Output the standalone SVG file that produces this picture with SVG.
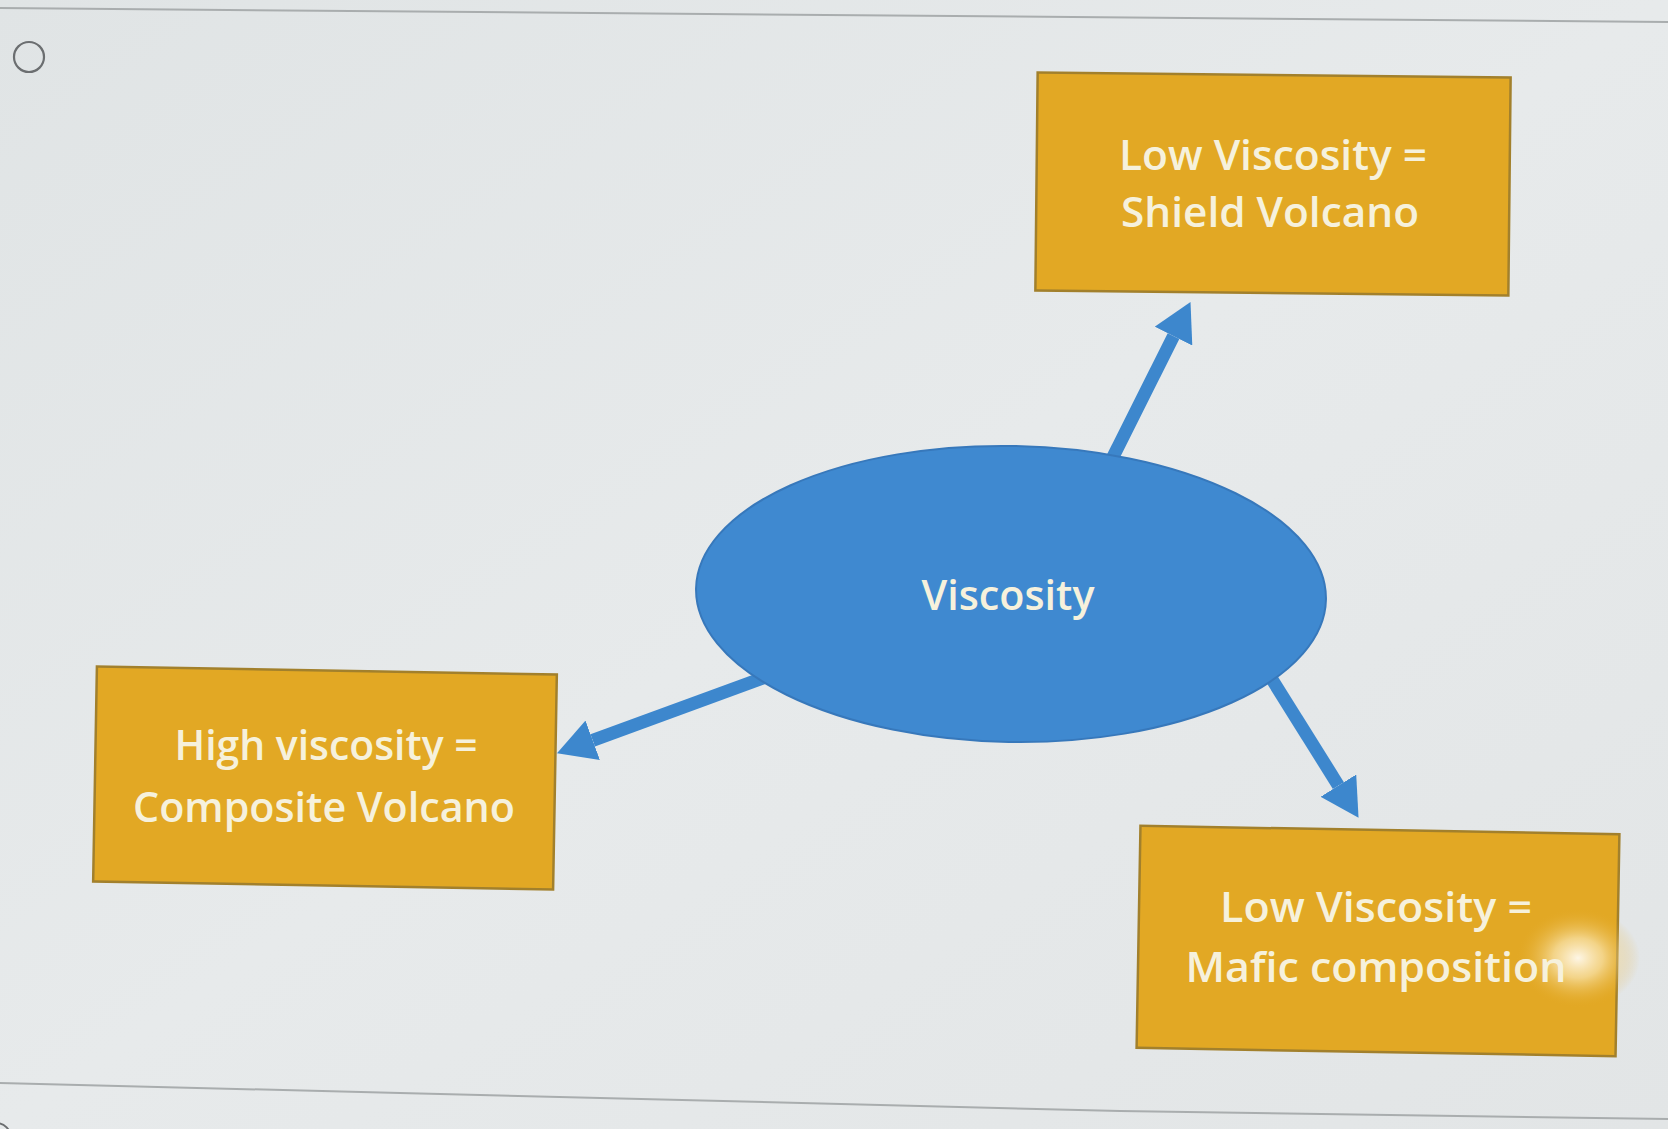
<svg xmlns="http://www.w3.org/2000/svg" width="1668" height="1129" viewBox="0 0 1668 1129">
  <defs>
    <linearGradient id="bg" x1="0" y1="0" x2="1" y2="1">
      <stop offset="0" stop-color="#e0e4e5"/>
      <stop offset="0.5" stop-color="#e7eaeb"/>
      <stop offset="1" stop-color="#e2e5e6"/>
    </linearGradient>
    <radialGradient id="glare" cx="0.5" cy="0.5" r="0.5">
      <stop offset="0" stop-color="#fffaf0" stop-opacity="0.95"/>
      <stop offset="0.4" stop-color="#fcebbd" stop-opacity="0.65"/>
      <stop offset="1" stop-color="#e3a823" stop-opacity="0"/>
    </radialGradient>
    <marker id="head" viewBox="0 0 38 42" refX="0" refY="21" markerWidth="38" markerHeight="42" markerUnits="userSpaceOnUse" orient="auto">
      <path d="M0,0 L38,21 L0,42 Z" fill="#3d87cd"/>
    </marker>
  </defs>
  <style>
    .box { fill: #e2a824; stroke: #a2802c; stroke-width: 2.5; }
    .lbl { font-family: "Open Sans", "Liberation Sans", sans-serif; font-size: 41px; font-weight: 600; fill: #f6f1dc; text-anchor: middle; }
    .conn { stroke: #3d87cd; stroke-width: 13; fill: none; marker-end: url(#head); }
    .rule { stroke: #a9adae; stroke-width: 2; fill: none; }
  </style>
  <rect x="0" y="0" width="1668" height="1129" fill="url(#bg)"/>
  <line class="rule" x1="0" y1="8" x2="1668" y2="22"/>
  <polyline class="rule" points="0,1083 400,1093 1120,1111 1668,1119"/>
  <circle cx="29" cy="57" r="15" fill="none" stroke="#6b6e70" stroke-width="2.2"/>
  <circle cx="-4" cy="1138" r="15" fill="none" stroke="#6b6e70" stroke-width="2"/>

  <g id="connectors">
    <line class="conn" x1="1106.4" y1="470.2" x2="1173.5" y2="336.1"/>
    <line class="conn" x1="799.3" y1="664.8" x2="592.7" y2="740.3"/>
    <line class="conn" x1="1258.9" y1="658.4" x2="1338.4" y2="785.6"/>
  </g>

  <g id="viscosity">
    <ellipse cx="1011" cy="594" rx="315" ry="148" transform="rotate(1 1011 594)" fill="#3f89d0" stroke="#3778bb" stroke-width="2"/>
    <text class="lbl" x="1008" y="610" font-size="45" textLength="173" lengthAdjust="spacingAndGlyphs">Viscosity</text>
  </g>

  <g id="shield">
    <rect class="box" x="1036.5" y="75" width="473" height="218" transform="rotate(0.6 1273 184)"/>
    <text class="lbl" x="1273" y="170" textLength="308" lengthAdjust="spacingAndGlyphs">Low Viscosity =</text>
    <text class="lbl" x="1270" y="227" textLength="298" lengthAdjust="spacingAndGlyphs">Shield Volcano</text>
  </g>

  <g id="composite">
    <rect class="box" x="95" y="670.5" width="460" height="215" transform="rotate(1 325 778)"/>
    <text class="lbl" x="326" y="760" textLength="303" lengthAdjust="spacingAndGlyphs">High viscosity =</text>
    <text class="lbl" x="324" y="822" textLength="382" lengthAdjust="spacingAndGlyphs">Composite Volcano</text>
  </g>

  <g id="mafic">
    <rect class="box" x="1138.5" y="830" width="479" height="222" transform="rotate(1 1378 941)"/>
    <ellipse cx="1578" cy="958" rx="62" ry="50" fill="url(#glare)"/>
    <text class="lbl" x="1376" y="922" textLength="312" lengthAdjust="spacingAndGlyphs">Low Viscosity =</text>
    <text class="lbl" x="1376" y="982" textLength="381" lengthAdjust="spacingAndGlyphs">Mafic composition</text>
  </g>
</svg>
